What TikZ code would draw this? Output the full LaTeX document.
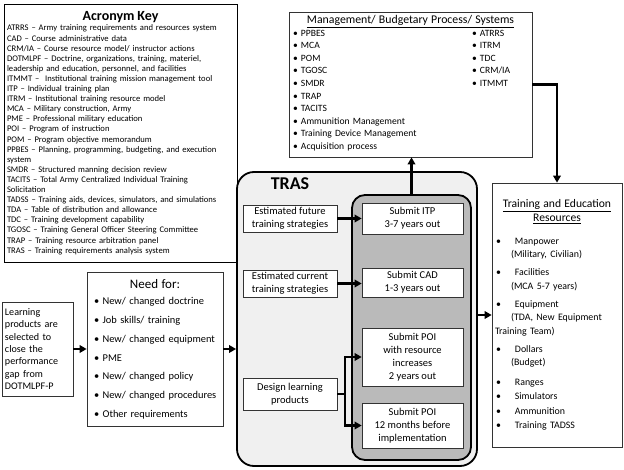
\documentclass[tikz,border=0pt]{standalone}
\usepackage{fontspec}
\setmainfont{Carlito}
\usetikzlibrary{arrows.meta}

\begin{document}
\begin{tikzpicture}[x=1pt,y=-1pt,
    thinbox/.style={draw=black!80, line width=0.7pt, fill=white, inner sep=0pt},
    listbox/.style={thinbox, align=left},
    stepbox/.style={thinbox, align=center, font=\fontsize{10.5}{13}\selectfont},
    arr/.style={line width=2.1pt, -{Triangle[length=7pt,width=7.5pt]}}]
  \useasboundingbox (0,0) rectangle (624,470);

  % acronym key
  \node [listbox, draw=black, minimum width=233pt, minimum height=258pt, text width=227pt,
         font=\fontsize{8.6}{10.1}\selectfont] (key) at (120.5,133) {%
    \makebox[227pt]{\fontsize{14}{14}\selectfont\bfseries Acronym Key}\\[0.5pt]
    ATRRS -- Army training requirements and resources system\\
    CAD -- Course administrative data\\
    CRM/IA -- Course resource model/ instructor actions\\
    DOTMLPF -- Doctrine, organizations, training, materiel,\\
    leadership and education, personnel, and facilities\\
    ITMMT -- \ Institutional training mission management tool\\
    ITP -- Individual training plan\\
    ITRM -- Institutional training resource model\\
    MCA -- Military construction, Army\\
    PME -- Professional military education\\
    POI -- Program of instruction\\
    POM -- Program objective memorandum\\
    PPBES -- Planning, programming, budgeting, and execution\\
    system\\
    SMDR -- Structured manning decision review\\
    TACITS -- Total Army Centralized Individual Training\\
    Solicitation\\
    TADSS -- Training aids, devices, simulators, and simulations\\
    TDA -- Table of distribution and allowance\\
    TDC -- Training development capability\\
    TGOSC -- Training General Officer Steering Committee\\
    TRAP -- Training resource arbitration panel\\
    TRAS -- Training requirements analysis system};

  % management and budget
  \node [listbox, minimum width=243pt, minimum height=145pt, text width=235pt,
         font=\fontsize{9.6}{12.6}\selectfont] (mgmt) at (410.5,84.5) {%
    \makebox[235pt]{\fontsize{11.8}{13}\selectfont\underline{Management/ Budgetary Process/ Systems}}\\[-1.5pt]
    \begin{tabular}{@{}p{179pt}@{}l@{}}
      • PPBES & • ATRRS\\
      • MCA & • ITRM\\
      • POM & • TDC\\
      • TGOSC & • CRM/IA\\
      • SMDR & • ITMMT\\
      • TRAP & \\
      • TACITS & \\
      • Ammunition Management & \\
      • Training Device Management & \\
      • Acquisition process &
    \end{tabular}};

  % resources
  \node [listbox, minimum width=130pt, minimum height=264pt, text width=124pt,
         font=\fontsize{9.9}{13.5}\selectfont] (res) at (557,315) {%
    \makebox[124pt]{\fontsize{11.6}{15}\selectfont\underline{Training and Education}}\\[1pt]
    \makebox[124pt]{\fontsize{11.6}{15}\selectfont\underline{Resources}}\\[9pt]
    \hspace{1pt}•\hspace{14pt}Manpower\\
    \hspace{16pt}(Military, Civilian)\\[4.5pt]
    \hspace{1pt}•\hspace{14pt}Facilities\\
    \hspace{16pt}(MCA 5-7 years)\\[4.5pt]
    \hspace{1pt}•\hspace{14pt}Equipment\\
    \hspace{16pt}(TDA, New Equipment\\
    Training Team)\\[4.5pt]
    \hspace{1pt}•\hspace{14pt}Dollars\\
    \hspace{16pt}(Budget)\\[6pt]
    \hspace{1pt}•\hspace{14pt}Ranges\\[1pt]
    \hspace{1pt}•\hspace{14pt}Simulators\\[1pt]
    \hspace{1pt}•\hspace{14pt}Ammunition\\[1pt]
    \hspace{1pt}•\hspace{14pt}Training TADSS};

  % need for
  \node [listbox, minimum width=136pt, minimum height=154pt, text width=128pt,
         font=\fontsize{10.4}{18.7}\selectfont] (need) at (155,349) {%
    \makebox[128pt]{\fontsize{13}{14}\selectfont Need for:}\\[-2pt]
    \hspace{3pt}• New/ changed doctrine\\
    \hspace{3pt}• Job skills/ training\\
    \hspace{3pt}• New/ changed equipment\\
    \hspace{3pt}• PME\\
    \hspace{3pt}• New/ changed policy\\
    \hspace{3pt}• New/ changed procedures\\
    \hspace{3pt}• Other requirements};

  \node [listbox, minimum width=71pt, minimum height=94pt, text width=65pt,
         font=\fontsize{10.1}{12.3}\selectfont] (learn) at (37.5,349) {%
    Learning\\ products are\\ selected to\\ close the\\ performance\\ gap from\\ DOTMLPF-P};

  % TRAS
  \node [draw, line width=1.8pt, rounded corners=17pt, fill=black!6,
         minimum width=240pt, minimum height=294pt] (tras) at (357,319) {};
  \node [font=\fontsize{18}{18}\selectfont\bfseries] (trastitle) at (290,184) {TRAS};
  \node [draw, line width=1.8pt, rounded corners=13pt, fill=black!27,
         minimum width=119pt, minimum height=265pt] (submit) at (411.5,327.5) {};

  \node [stepbox, minimum width=94pt, minimum height=27pt] (future) at (290,218.5) {Estimated future\\ training strategies};
  \node [stepbox, minimum width=94pt, minimum height=27pt] (current) at (290,283.5) {Estimated current\\ training strategies};
  \node [stepbox, minimum width=94pt, minimum height=32pt] (design) at (290,394) {Design learning\\ products};

  \node [stepbox, minimum width=101pt, minimum height=31pt] (itp) at (412.5,218.5) {Submit ITP\\ 3-7 years out};
  \node [stepbox, minimum width=101pt, minimum height=29pt] (cad) at (412.5,282.5) {Submit CAD\\ 1-3 years out};
  \node [stepbox, minimum width=101pt, minimum height=58pt] (poifirst) at (412.5,357) {Submit POI\\ with resource\\ increases\\ 2 years out};
  \node [stepbox, minimum width=101pt, minimum height=45pt] (poisecond) at (412.5,425.5) {Submit POI\\ 12 months before\\ implementation};

  % connectors
  \draw [arr] (learn.east) -- (need.west);
  \draw [arr] (need.east) -- (need.east -| tras.west);
  \draw [arr] (tras.east |- res.west) -- (res.west);
  \draw [arr] (mgmt.east) -| (res.north);
  \draw [arr] (submit.north) -- (submit.north |- mgmt.south);
  \draw [arr] (future.east) -- (itp.west);
  \draw [arr] (current.east) -- (current.east -| cad.west);
  \draw [arr] (design.east) -- ++(8,0) |- (poifirst.west);
  \draw [arr] (design.east) -- ++(8,0) |- (poisecond.west);
\end{tikzpicture}
\end{document}
